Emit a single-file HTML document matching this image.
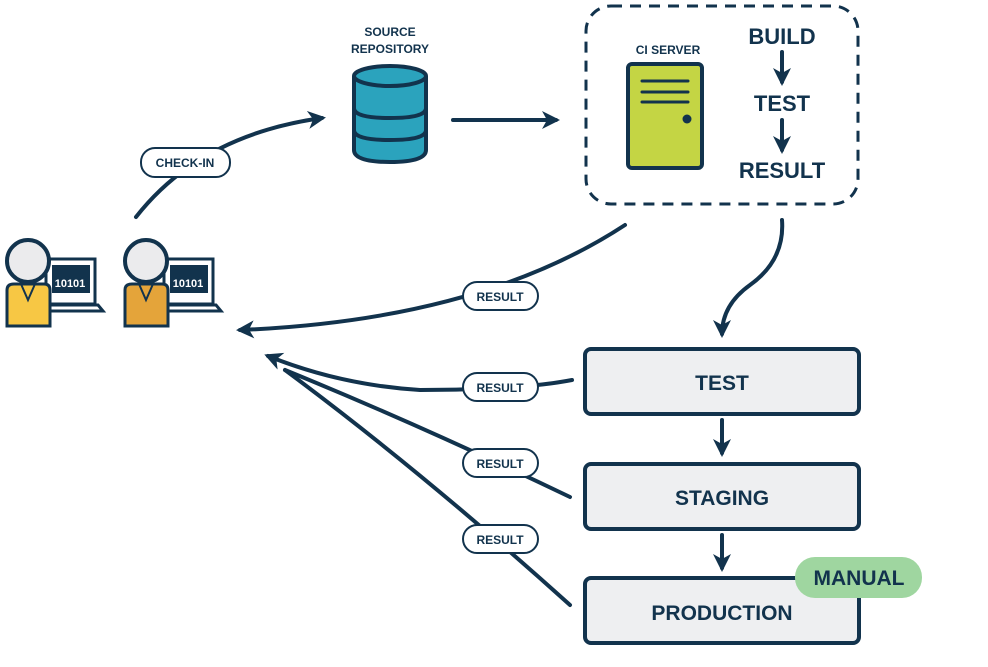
<!DOCTYPE html>
<html><head><meta charset="utf-8"><style>
body{margin:0;background:#fff;}
svg{display:block;font-family:"Liberation Sans",sans-serif;font-weight:bold;}
</style></head><body>
<svg width="988" height="667" viewBox="0 0 988 667">
<defs>
<marker id="ah" markerWidth="10" markerHeight="10" refX="7" refY="5" orient="auto" markerUnits="userSpaceOnUse" viewBox="0 0 10 10">
<path d="M0,0 L10,5 L0,10 L3,5 Z" fill="#12334d"/>
</marker>
<marker id="ah2" markerWidth="20" markerHeight="20" refX="14" refY="10" orient="auto" markerUnits="userSpaceOnUse" viewBox="0 0 20 20">
<path d="M0,1 L18,10 L0,19 L5,10 Z" fill="#12334d"/>
</marker>
</defs>
<g stroke="#12334d" fill="none" stroke-width="4" stroke-linecap="round">
<!-- check-in -->
<path d="M136,217 Q200,135 322,118" marker-end="url(#ah2)"/>
<!-- repo to CI -->
<path d="M453,120 L556,120" marker-end="url(#ah2)"/>
<!-- CI result back -->
<path d="M625,225 Q480,320 240,330" marker-end="url(#ah2)"/>
<!-- CI down -->
<path d="M782,220 Q785,260 750,285 Q722,305 722,334" marker-end="url(#ah2)"/>
<!-- box result arrows -->
<path d="M572,380 Q520,390 420,390 Q340,385 268,356" marker-end="url(#ah2)"/>
<path d="M570,497 Q420,425 285,370"/>
<path d="M570,605 Q420,470 285,370"/>
<!-- between boxes -->
<path d="M722,420 L722,453" marker-end="url(#ah2)"/>
<path d="M722,535 L722,568" marker-end="url(#ah2)"/>
<!-- CI inner arrows -->
<path d="M782,52 L782,82" marker-end="url(#ah2)"/>
<path d="M782,120 L782,150" marker-end="url(#ah2)"/>
</g>
<!-- dashed CI box -->
<rect x="586" y="6" width="272" height="198" rx="25" fill="none" stroke="#12334d" stroke-width="3" stroke-dasharray="11 8"/>
<text x="668" y="54" font-size="12" fill="#12334d" text-anchor="middle">CI SERVER</text>
<rect x="628" y="64" width="74" height="104" rx="4" fill="#c4d544" stroke="#12334d" stroke-width="4"/>
<g stroke="#12334d" stroke-width="3" stroke-linecap="round"><line x1="642" y1="81" x2="688" y2="81"/><line x1="642" y1="92" x2="688" y2="92"/><line x1="642" y1="102" x2="688" y2="102"/></g>
<circle cx="687" cy="119" r="4.5" fill="#12334d"/>
<text x="782" y="44" font-size="22" fill="#12334d" text-anchor="middle">BUILD</text>
<text x="782" y="111" font-size="22" fill="#12334d" text-anchor="middle">TEST</text>
<text x="782" y="178" font-size="22" fill="#12334d" text-anchor="middle">RESULT</text>
<!-- repo -->
<text x="390" y="36" font-size="12" fill="#12334d" text-anchor="middle">SOURCE</text>
<text x="390" y="53" font-size="12" fill="#12334d" text-anchor="middle">REPOSITORY</text>
<g stroke="#12334d" stroke-width="4" fill="#2ba3bd">
<path d="M354,76 L354,150 Q354,162 390,162 Q426,162 426,150 L426,76"/>
<ellipse cx="390" cy="76" rx="36" ry="10"/>
<path d="M354,108 Q354,118 390,118 Q426,118 426,108" fill="none"/>
<path d="M354,130 Q354,140 390,140 Q426,140 426,130" fill="none"/>
</g>
<!-- pills -->
<g stroke="#12334d" stroke-width="2" fill="#fff">
<rect x="141" y="148" width="89" height="29" rx="14"/>
<rect x="463" y="282" width="75" height="28" rx="14"/>
<rect x="463" y="373" width="75" height="28" rx="14"/>
<rect x="463" y="449" width="75" height="28" rx="14"/>
<rect x="463" y="525" width="75" height="28" rx="14"/>
</g>
<g font-size="12" fill="#12334d" text-anchor="middle">
<text x="185" y="167">CHECK-IN</text>
<text x="500" y="301">RESULT</text>
<text x="500" y="392">RESULT</text>
<text x="500" y="468">RESULT</text>
<text x="500" y="544">RESULT</text>
</g>
<!-- stage boxes -->
<g stroke="#12334d" stroke-width="4" fill="#eeeff1">
<rect x="585" y="349" width="274" height="65" rx="6"/>
<rect x="585" y="464" width="274" height="65" rx="6"/>
<rect x="585" y="578" width="274" height="65" rx="6"/>
</g>
<g font-size="21" fill="#12334d" text-anchor="middle">
<text x="722" y="390">TEST</text>
<text x="722" y="505">STAGING</text>
<text x="722" y="620">PRODUCTION</text>
</g>
<rect x="795" y="557" width="127" height="41" rx="20" fill="#9fd6a0"/>
<text x="859" y="585" font-size="21" fill="#12334d" text-anchor="middle">MANUAL</text>
<!-- persons -->
<g id="p1">
<rect x="46" y="259" width="49" height="45" fill="#fff" stroke="#12334d" stroke-width="3"/>
<rect x="52" y="265" width="38" height="28" fill="#12334d"/>
<text x="70" y="287" font-size="11" fill="#fff" text-anchor="middle">10101</text>
<path d="M42,305 L98,305 L103,311 L42,311 Z" fill="#fff" stroke="#12334d" stroke-width="3"/>
<path d="M7,290 Q7,284 14,284 L44,284 Q50,284 50,290 L50,326 L7,326 Z" fill="#f7c744" stroke="#12334d" stroke-width="3"/>
<path d="M21,284 L28,300 L35,284" fill="none" stroke="#12334d" stroke-width="2"/>
<circle cx="28" cy="261" r="21" fill="#ebebed" stroke="#12334d" stroke-width="4"/>
</g>
<g transform="translate(118,0)">
<rect x="46" y="259" width="49" height="45" fill="#fff" stroke="#12334d" stroke-width="3"/>
<rect x="52" y="265" width="38" height="28" fill="#12334d"/>
<text x="70" y="287" font-size="11" fill="#fff" text-anchor="middle">10101</text>
<path d="M42,305 L98,305 L103,311 L42,311 Z" fill="#fff" stroke="#12334d" stroke-width="3"/>
<path d="M7,290 Q7,284 14,284 L44,284 Q50,284 50,290 L50,326 L7,326 Z" fill="#e4a43a" stroke="#12334d" stroke-width="3"/>
<path d="M21,284 L28,300 L35,284" fill="none" stroke="#12334d" stroke-width="2"/>
<circle cx="28" cy="261" r="21" fill="#ebebed" stroke="#12334d" stroke-width="4"/>
</g>
</svg>
</body></html>
